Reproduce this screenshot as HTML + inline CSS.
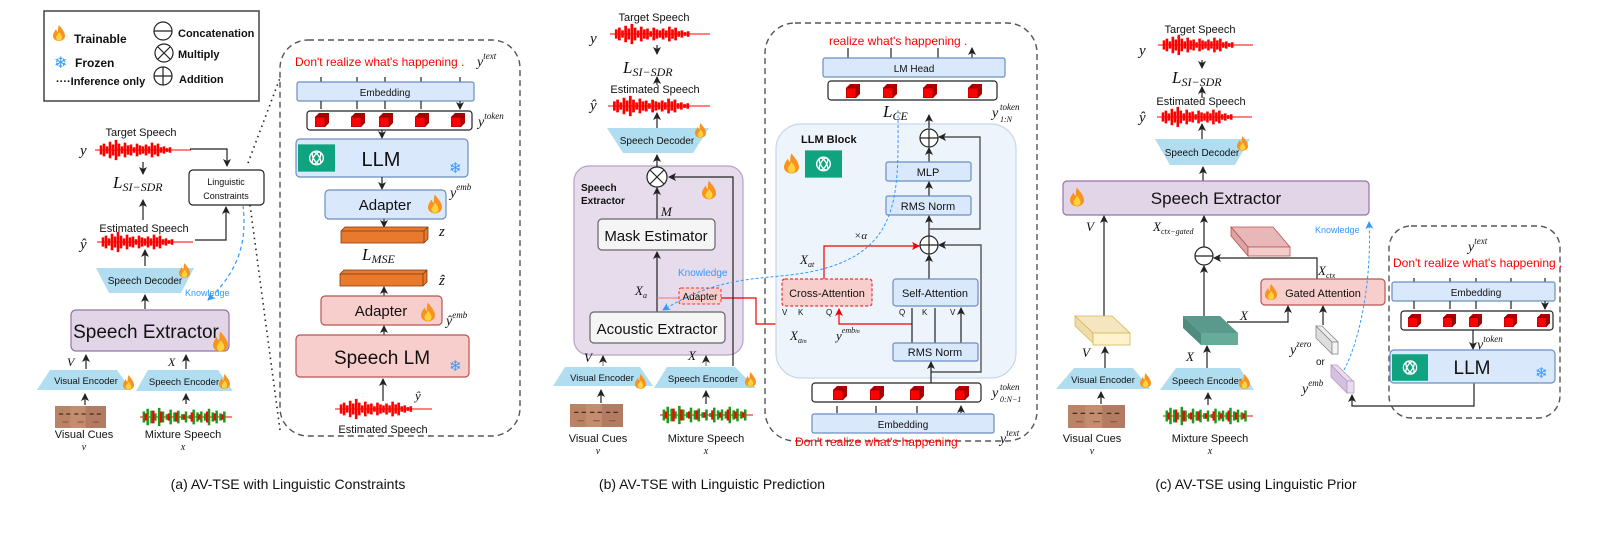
<!DOCTYPE html>
<html><head><meta charset="utf-8"><style>
html,body{margin:0;padding:0;background:#fff;width:1619px;height:536px;overflow:hidden}
svg{display:block}
text{font-family:"Liberation Sans",sans-serif;fill:#111}
.m{font-family:"Liberation Serif",serif;font-style:italic}
.blue{fill:#dae8fc;stroke:#6c8ebf;stroke-width:1.2}
.red{fill:#f8cecc;stroke:#b85450;stroke-width:1.2}
.pur{fill:#e1d5e7;stroke:#9673a6;stroke-width:1.2}
.gr{fill:#f5f5f5;stroke:#666;stroke-width:1.2}
.trap{fill:#b1ddf0;stroke:none}
.ln{stroke:#222;stroke-width:1.2;fill:none}
.rl{stroke:#e00;stroke-width:1.2;fill:none}
</style></head><body>
<svg width="1619" height="536" viewBox="0 0 1619 536" xmlns="http://www.w3.org/2000/svg">
<defs>
<marker id="a" markerWidth="8" markerHeight="8" refX="7" refY="4" orient="auto" markerUnits="userSpaceOnUse"><path d="M0,0 L8,4 L0,8 L2,4z" fill="#222"/></marker>
<marker id="ar" markerWidth="8" markerHeight="8" refX="7" refY="4" orient="auto" markerUnits="userSpaceOnUse"><path d="M0,0 L8,4 L0,8 L2,4z" fill="#e00"/></marker>
<marker id="ab" markerWidth="8" markerHeight="8" refX="7" refY="4" orient="auto" markerUnits="userSpaceOnUse"><path d="M0,0 L8,4 L0,8 L2,4z" fill="#3399ff"/></marker>
<symbol id="wav" viewBox="0 0 96 24" preserveAspectRatio="none"><path d="M0,12H96" stroke="#f00" stroke-width="1.2"/><path d="M6,7V17M9,5V19M12,8V16M15,3V21M18,6V18M21,1V23M24,5V19M27,8V16M30,4V20M33,7V17M36,6V18M39,9V15M42,5V19M45,7V17M48,8V16M51,6V18M54,8V16M57,4V20M60,7V17M63,5V19M66,9V15M69,8V16M72,10V14M75,9V15" stroke="#f00" stroke-width="2.6"/></symbol>
<symbol id="mix" viewBox="0 0 96 24" preserveAspectRatio="none"><path d="M0,12H96" stroke="#f00" stroke-width="1.2"/><path d="M4,6V18M8,3V21M12,5V19M16,8V16M20,2V22M24,6V18M28,9V15M32,4V20M36,7V17M40,5V19M44,9V15M48,6V18M52,10V14M56,4V20M60,7V17M64,6V18M68,8V16M72,3V21M76,7V17M80,5V19M84,8V16M88,6V18" stroke="#1a9a1a" stroke-width="2.6"/><path d="M6,8V16M14,5V19M22,6V18M30,8V16M38,7V17M46,9V15M54,7V17M62,9V15M70,6V18M78,8V16M86,9V15" stroke="#f00" stroke-width="2.4"/></symbol>
<symbol id="cube" viewBox="0 0 14 14"><path d="M0,4 L4,0 H14 V10 L10,14 H0z" fill="#a00"/><rect x="0" y="4" width="10" height="10" fill="#f00" stroke="#600" stroke-width=".6"/></symbol>
<symbol id="fl" viewBox="0 0 12 16"><path d="M6,0 C9,4 12,7 12,11 C12,14 9,16 6,16 C3,16 0,14 0,11 C0,8 2,6 3,4 C4,7 5,7 5,7 C5,4 5,2 6,0z" fill="#f7931e"/><path d="M6,7 C8,9 9,11 9,12.5 C9,14.5 7.5,15.5 6,15.5 C4.5,15.5 3,14.5 3,12.5 C3,11 4.5,10 6,7z" fill="#ffd23f"/></symbol>
<symbol id="logo" viewBox="0 0 38 28"><rect width="38" height="28" fill="#10a37f"/><g fill="none" stroke="#fff" stroke-width="1.4"><circle cx="19" cy="14" r="7"/><ellipse cx="19" cy="14" rx="7" ry="3" transform="rotate(60 19 14)"/><ellipse cx="19" cy="14" rx="7" ry="3" transform="rotate(-60 19 14)"/></g></symbol>
<symbol id="face" viewBox="0 0 50 22" preserveAspectRatio="none"><rect x="0" y="0" width="20" height="22" fill="#b98365"/><rect x="15" y="0" width="20" height="22" fill="#c38d70"/><rect x="30" y="0" width="20" height="22" fill="#b27c62"/><path d="M4,8h4M11,8h4M19,8h4M26,8h4M34,8h4M41,8h4" stroke="#4a2a1a" stroke-width="1.2"/><path d="M7,16h6M22,16h6M37,16h6" stroke="#944" stroke-width="1"/></symbol>
</defs>

<!-- ========== (a) ========== -->
<rect x="44" y="11" width="215" height="90" fill="#fff" stroke="#444" stroke-width="1.5"/>
<use href="#fl" x="53" y="24" width="12" height="18"/>
<text x="74" y="43" font-size="12" font-weight="bold">Trainable</text>
<text x="54" y="68" font-size="16" style="fill:#3399ff">❄</text>
<text x="75" y="67" font-size="12" font-weight="bold">Frozen</text>
<text x="56" y="85" font-size="11" font-weight="bold">····Inference only</text>
<circle cx="163" cy="31" r="9" class="ln"/><path d="M154,31h18" class="ln"/>
<text x="178" y="37" font-size="11" font-weight="bold">Concatenation</text>
<circle cx="164" cy="53" r="9" class="ln"/><path d="M158,47l12,12M170,47l-12,12" class="ln"/>
<text x="178" y="58" font-size="11" font-weight="bold">Multiply</text>
<circle cx="163" cy="76" r="9" class="ln"/><path d="M154,76h18M163,67v18" class="ln"/>
<text x="179" y="83" font-size="11" font-weight="bold">Addition</text>

<text x="141" y="136" font-size="11" text-anchor="middle">Target Speech</text>
<text x="80" y="155" font-size="15" class="m">y</text>
<use href="#wav" x="95" y="139" width="96" height="22"/>
<path d="M190,149H227V166" class="ln" marker-end="url(#a)"/>
<path d="M143,162V174" class="ln" marker-end="url(#a)"/>
<text x="113" y="188" font-size="17" class="m">L<tspan font-size="12" dy="3">SI−SDR</tspan></text>
<rect x="189" y="170" width="75" height="35" rx="4" fill="#fff" stroke="#222" stroke-width="1.2"/>
<text x="226" y="185" font-size="9" text-anchor="middle">Linguistic</text>
<text x="226" y="199" font-size="9" text-anchor="middle">Constraints</text>
<path d="M143,220V200" class="ln" marker-end="url(#a)"/>
<text x="144" y="232" font-size="11" text-anchor="middle">Estimated Speech</text>
<text x="80" y="249" font-size="15" class="m">ŷ</text>
<use href="#wav" x="97" y="231" width="96" height="22"/>
<path d="M195,240H226V207" class="ln" marker-end="url(#a)"/>
<path d="M145,266V250" class="ln" marker-end="url(#a)"/>
<path d="M96,268H194L181,293H109z" class="trap"/>
<text x="145" y="284" font-size="10" text-anchor="middle">Speech Decoder</text>
<use href="#fl" x="179" y="263" width="11" height="15"/>
<path d="M145,309V295" class="ln" marker-end="url(#a)"/>
<path d="M243,205 C247,240 240,270 208,300" stroke="#3399ff" stroke-width="1.2" stroke-dasharray="4,3" fill="none" marker-end="url(#ab)"/>
<text x="185" y="296" font-size="9" style="fill:#3399ff">Knowledge</text>
<rect x="71" y="310" width="158" height="41" rx="5" class="pur"/>
<text x="146" y="338" font-size="19" text-anchor="middle">Speech Extractor</text>
<use href="#fl" x="213" y="331" width="15" height="21"/>
<text x="67" y="366" font-size="12" class="m">V</text>
<path d="M86,369V355" class="ln" marker-end="url(#a)"/>
<text x="168" y="366" font-size="12" class="m">X</text>
<path d="M186,369V355" class="ln" marker-end="url(#a)"/>
<path d="M50,370H117L131,390H37z" class="trap"/>
<text x="86" y="384" font-size="9.5" text-anchor="middle">Visual Encoder</text>
<use href="#fl" x="123" y="375" width="11" height="15"/>
<path d="M148,370H218L233,391H136z" class="trap"/>
<text x="184" y="385" font-size="9.5" text-anchor="middle">Speech Encoder</text>
<use href="#fl" x="219" y="374" width="11" height="15"/>
<path d="M85,405V394" class="ln" marker-end="url(#a)"/>
<path d="M186,404V394" class="ln" marker-end="url(#a)"/>
<use href="#face" x="55" y="406" width="51" height="22"/>
<use href="#mix" x="140" y="406" width="92" height="22"/>
<text x="84" y="438" font-size="11" text-anchor="middle">Visual Cues</text>
<text x="84" y="450" font-size="10" text-anchor="middle" class="m">v</text>
<text x="183" y="438" font-size="11" text-anchor="middle">Mixture Speech</text>
<text x="183" y="450" font-size="10" text-anchor="middle" class="m">x</text>
<path d="M248,163L280,78M250,205L280,430" stroke="#222" stroke-width="1.6" stroke-dasharray="1.5,4" fill="none"/>

<rect x="280" y="40" width="240" height="396" rx="28" fill="none" stroke="#555" stroke-width="1.4" stroke-dasharray="6,4"/>
<text x="295" y="66" font-size="12" style="fill:#f00">Don't realize what's happening .</text>
<text x="477" y="66" font-size="14" class="m">y<tspan font-size="9" dy="-7">text</tspan></text>
<path d="M321,77v5M357,77v5M385,77v5M421,77v5M460,77v5" class="ln"/>
<rect x="297" y="82" width="177" height="19" rx="2" class="blue"/>
<text x="385" y="96" font-size="10" text-anchor="middle">Embedding</text>
<path d="M321,101v8M357,101v8M385,101v8M421,101v8M460,101v8" class="ln" marker-end="url(#a)"/>
<rect x="307" y="111" width="165" height="19" rx="3" fill="#fff" stroke="#222" stroke-width="1.2"/>
<use href="#cube" x="315" y="113" width="14" height="14"/><use href="#cube" x="351" y="113" width="14" height="14"/><use href="#cube" x="379" y="113" width="14" height="14"/><use href="#cube" x="415" y="113" width="14" height="14"/><use href="#cube" x="451" y="113" width="14" height="14"/>
<text x="478" y="126" font-size="14" class="m">y<tspan font-size="9" dy="-7">token</tspan></text>
<path d="M382,130v8" class="ln" marker-end="url(#a)"/>
<rect x="296" y="139" width="172" height="38" rx="4" class="blue"/>
<use href="#logo" x="298" y="144" width="37" height="28"/>
<text x="381" y="166" font-size="20" text-anchor="middle">LLM</text>
<text x="449" y="173" font-size="15" style="fill:#3399ff">❄</text>
<path d="M382,177v12" class="ln" marker-end="url(#a)"/>
<rect x="325" y="190" width="121" height="29" rx="4" class="blue"/>
<text x="385" y="210" font-size="15" text-anchor="middle">Adapter</text>
<use href="#fl" x="428" y="194" width="14" height="20"/>
<text x="450" y="197" font-size="14" class="m">y<tspan font-size="9" dy="-7">emb</tspan></text>
<path d="M384,219v8" class="ln" marker-end="url(#a)"/>
<path d="M341,231l4,-4h83v12l-4,4h-83z" fill="#e8792d" stroke="#7a3a10" stroke-width="0.8"/><path d="M341,231h83l4,-4M424,231v12" stroke="#7a3a10" stroke-width="0.8" fill="none"/>
<text x="439" y="236" font-size="15" class="m">z</text>
<text x="362" y="260" font-size="17" class="m">L<tspan font-size="12" dy="3">MSE</tspan></text>
<path d="M340,274l4,-4h83v12l-4,4h-83z" fill="#e8792d" stroke="#7a3a10" stroke-width="0.8"/><path d="M340,274h83l4,-4M423,274v12" stroke="#7a3a10" stroke-width="0.8" fill="none"/>
<text x="439" y="285" font-size="15" class="m">ẑ</text>
<path d="M384,296v-9" class="ln" marker-end="url(#a)"/>
<rect x="321" y="296" width="121" height="29" rx="4" class="red"/>
<text x="381" y="316" font-size="15" text-anchor="middle">Adapter</text>
<use href="#fl" x="421" y="302" width="14" height="20"/>
<text x="446" y="325" font-size="14" class="m">ŷ<tspan font-size="9" dy="-7">emb</tspan></text>
<path d="M384,335v-9" class="ln" marker-end="url(#a)"/>
<rect x="296" y="335" width="173" height="42" rx="4" class="red"/>
<text x="382" y="364" font-size="19" text-anchor="middle">Speech LM</text>
<text x="449" y="371" font-size="15" style="fill:#3399ff">❄</text>
<path d="M383,401V379" class="ln" marker-end="url(#a)"/>
<text x="415" y="400" font-size="13" class="m">ŷ</text>
<use href="#wav" x="335" y="398" width="97" height="22"/>
<text x="383" y="433" font-size="11" text-anchor="middle">Estimated Speech</text>

<!-- ========== (b) ========== -->
<text x="654" y="21" font-size="11" text-anchor="middle">Target Speech</text>
<text x="590" y="43" font-size="15" class="m">y</text>
<use href="#wav" x="610" y="23" width="100" height="22"/>
<path d="M657,45v9" class="ln" marker-end="url(#a)"/>
<text x="623" y="73" font-size="17" class="m">L<tspan font-size="12" dy="3">SI−SDR</tspan></text>
<path d="M657,85v-8" class="ln" marker-end="url(#a)"/>
<text x="655" y="93" font-size="11" text-anchor="middle">Estimated Speech</text>
<text x="590" y="110" font-size="15" class="m">ŷ</text>
<use href="#wav" x="608" y="95" width="102" height="22"/>
<path d="M657,128v-15" class="ln" marker-end="url(#a)"/>
<path d="M607,128H709L693,153H623z" class="trap"/>
<text x="657" y="144" font-size="10" text-anchor="middle">Speech Decoder</text>
<use href="#fl" x="695" y="123" width="11" height="15"/>
<rect x="574" y="166" width="169" height="189" rx="15" fill="#e6dcec" stroke="#b7a1c8" stroke-width="1.2"/>
<path d="M657,167v-12" class="ln" marker-end="url(#a)"/>
<circle cx="657" cy="177" r="10" fill="#fff" stroke="#222" stroke-width="1.2"/><path d="M650,170l14,14M664,170l-14,14" class="ln"/>
<text x="581" y="191" font-size="10" font-weight="bold">Speech</text>
<text x="581" y="204" font-size="10" font-weight="bold">Extractor</text>
<use href="#fl" x="702" y="180" width="14" height="20"/>
<text x="661" y="216" font-size="13" class="m">M</text>
<path d="M657,219V188" class="ln" marker-end="url(#a)"/>
<rect x="598" y="219" width="117" height="31" rx="4" class="gr"/>
<text x="656" y="241" font-size="15" text-anchor="middle">Mask Estimator</text>
<path d="M657,312V252" class="ln" marker-end="url(#a)"/>
<text x="635" y="295" font-size="13" class="m">X<tspan font-size="8" dy="3">a</tspan></text>
<text x="678" y="276" font-size="10" style="fill:#3399ff">Knowledge</text>
<path d="M657,298H679" stroke="#e77" stroke-width="1"/>
<rect x="679" y="288" width="42" height="16" rx="2" fill="#f8cecc" stroke="#e33" stroke-width="1" stroke-dasharray="3,2"/>
<text x="700" y="300" font-size="10" text-anchor="middle">Adapter</text>
<path d="M721,298H756V324H816V308" class="rl" marker-end="url(#ar)"/>
<path d="M791,324V308" class="rl" marker-end="url(#ar)"/>
<rect x="590" y="312" width="135" height="31" rx="4" class="gr"/>
<text x="657" y="334" font-size="15" text-anchor="middle">Acoustic Extractor</text>
<path d="M733,366V177H669" class="ln" marker-end="url(#a)"/>
<text x="584" y="362" font-size="13" class="m">V</text>
<path d="M603,366V356" stroke="#888" stroke-width="1.2" marker-end="url(#a)"/>
<text x="688" y="360" font-size="13" class="m">X</text>
<path d="M706,366V356" stroke="#888" stroke-width="1.2" marker-end="url(#a)"/>
<path d="M565,367H640L653,386H553z" class="trap"/>
<text x="602" y="381" font-size="9.5" text-anchor="middle">Visual Encoder</text>
<use href="#fl" x="635" y="374" width="11" height="15"/>
<path d="M667,367H735L756,388H654z" class="trap"/>
<text x="703" y="382" font-size="9.5" text-anchor="middle">Speech Encoder</text>
<use href="#fl" x="745" y="372" width="11" height="15"/>
<path d="M601,403V390" class="ln" marker-end="url(#a)"/>
<path d="M706,404V391" class="ln" marker-end="url(#a)"/>
<use href="#face" x="570" y="404" width="53" height="23"/>
<use href="#mix" x="660" y="404" width="93" height="22"/>
<text x="598" y="442" font-size="11" text-anchor="middle">Visual Cues</text>
<text x="598" y="454" font-size="10" text-anchor="middle" class="m">v</text>
<text x="706" y="442" font-size="11" text-anchor="middle">Mixture Speech</text>
<text x="706" y="454" font-size="10" text-anchor="middle" class="m">x</text>

<rect x="765" y="23" width="272" height="418" rx="30" fill="none" stroke="#555" stroke-width="1.4" stroke-dasharray="6,4"/>
<text x="829" y="45" font-size="12" style="fill:#f00">realize what's happening  .</text>
<path d="M848,58V48M891,58V48M938,58V48M972,58V48" class="ln" marker-end="url(#a)"/>
<rect x="823" y="58" width="182" height="19" rx="2" class="blue"/>
<text x="914" y="72" font-size="10" text-anchor="middle">LM Head</text>
<rect x="828" y="81" width="169" height="19" rx="3" fill="#fff" stroke="#222" stroke-width="1.2"/>
<use href="#cube" x="846" y="84" width="14" height="14"/><use href="#cube" x="883" y="84" width="14" height="14"/><use href="#cube" x="923" y="84" width="14" height="14"/><use href="#cube" x="968" y="84" width="14" height="14"/>
<text x="883" y="117" font-size="17" class="m">L<tspan font-size="12" dy="3">CE</tspan></text>
<text x="992" y="117" font-size="14" class="m">y</text><text x="1000" y="110" font-size="9" class="m">token</text><text x="1000" y="122" font-size="8" class="m">1:N</text>
<rect x="776" y="124" width="240" height="254" rx="25" fill="#eef4fc" stroke="#c6d6ee" stroke-width="1.2"/>
<path d="M929,128V115" class="ln" marker-end="url(#a)"/>
<text x="801" y="143" font-size="11" font-weight="bold">LLM Block</text>
<use href="#fl" x="784" y="153" width="15" height="21"/>
<use href="#logo" x="805" y="150" width="37" height="28"/>
<circle cx="929" cy="138" r="9" fill="#fff" stroke="#222" stroke-width="1.2"/><path d="M920,138h18M929,129v18" class="ln"/>
<path d="M929,162V148" class="ln" marker-end="url(#a)"/>
<rect x="886" y="162" width="85" height="19" rx="2" class="blue"/>
<text x="928" y="176" font-size="11" text-anchor="middle">MLP</text>
<path d="M929,196V182" class="ln" marker-end="url(#a)"/>
<rect x="886" y="196" width="85" height="19" rx="2" class="blue"/>
<text x="928" y="210" font-size="11" text-anchor="middle">RMS Norm</text>
<path d="M929,236V216" class="ln" marker-end="url(#a)"/>
<path d="M929,229H980V137H939" stroke="#555" stroke-width="1.4" fill="none" marker-end="url(#a)"/>
<circle cx="929" cy="245" r="9" fill="#fff" stroke="#222" stroke-width="1.2"/><path d="M920,245h18M929,236v18" class="ln"/>
<path d="M929,279V255" class="ln" marker-end="url(#a)"/>
<path d="M931,372H981V245H939" stroke="#555" stroke-width="1.4" fill="none" marker-end="url(#a)"/>
<text x="854" y="239" font-size="11" class="m">×α</text>
<path d="M824,279V246H919" class="rl" marker-end="url(#ar)"/>
<text x="800" y="264" font-size="13" class="m">X<tspan font-size="8" dy="3">at</tspan></text>
<path d="M898,110 C898,200 905,265 780,276 C740,280 710,282 663,310" stroke="#3399ff" stroke-width="1" stroke-dasharray="3,2" fill="none" marker-end="url(#ab)"/>
<rect x="782" y="279" width="90" height="27" rx="3" fill="#f8cecc" stroke="#e33" stroke-width="1.2" stroke-dasharray="3,2"/>
<text x="827" y="297" font-size="11" text-anchor="middle">Cross-Attention</text>
<text x="782" y="315" font-size="8">V</text><text x="798" y="315" font-size="8">K</text><text x="826" y="315" font-size="8">Q</text>
<path d="M912,324H839V309" class="rl" marker-end="url(#ar)"/>
<text x="790" y="340" font-size="13" class="m">X<tspan font-size="8" dy="3">a<tspan font-size="6">in</tspan></tspan></text>
<text x="836" y="340" font-size="13" class="m">y<tspan font-size="8" dy="-7">emb<tspan font-size="6">in</tspan></tspan></text>
<rect x="893" y="279" width="85" height="27" rx="3" class="blue"/>
<text x="935" y="297" font-size="11" text-anchor="middle">Self-Attention</text>
<text x="899" y="315" font-size="8">Q</text><text x="922" y="315" font-size="8">K</text><text x="950" y="315" font-size="8">V</text>
<path d="M912,343V308M935,343V308M961,343V308" class="ln" marker-end="url(#a)"/>
<rect x="893" y="343" width="85" height="18" rx="2" class="blue"/>
<text x="935" y="356" font-size="11" text-anchor="middle">RMS Norm</text>
<path d="M931,383V362" class="ln" marker-end="url(#a)"/>
<rect x="812" y="383" width="169" height="19" rx="3" fill="#fff" stroke="#222" stroke-width="1.2"/>
<use href="#cube" x="833" y="386" width="14" height="14"/><use href="#cube" x="870" y="386" width="14" height="14"/><use href="#cube" x="910" y="386" width="14" height="14"/><use href="#cube" x="955" y="386" width="14" height="14"/>
<text x="992" y="397" font-size="14" class="m">y</text><text x="1000" y="390" font-size="9" class="m">token</text><text x="1000" y="402" font-size="8" class="m">0:N−1</text>
<path d="M837,413v-7M876,413v-7M917,413v-7M961,413v-7" class="ln" marker-end="url(#a)"/>
<rect x="812" y="414" width="182" height="19" rx="2" class="blue"/>
<text x="903" y="428" font-size="10" text-anchor="middle">Embedding</text>
<text x="795" y="446" font-size="12" style="fill:#f00">Don't realize what's happening</text>
<text x="1000" y="443" font-size="14" class="m">y<tspan font-size="9" dy="-7">text</tspan></text>

<!-- ========== (c) ========== -->
<text x="1200" y="33" font-size="11" text-anchor="middle">Target Speech</text>
<text x="1139" y="55" font-size="15" class="m">y</text>
<use href="#wav" x="1158" y="34" width="95" height="22"/>
<path d="M1202,60v8" class="ln" marker-end="url(#a)"/>
<text x="1172" y="83" font-size="17" class="m">L<tspan font-size="12" dy="3">SI−SDR</tspan></text>
<path d="M1202,98v-11" class="ln" marker-end="url(#a)"/>
<text x="1201" y="105" font-size="11" text-anchor="middle">Estimated Speech</text>
<text x="1139" y="122" font-size="15" class="m">ŷ</text>
<use href="#wav" x="1157" y="106" width="95" height="22"/>
<path d="M1202,139v-15" class="ln" marker-end="url(#a)"/>
<path d="M1155,139H1250L1235,165H1170z" class="trap"/>
<text x="1202" y="156" font-size="10" text-anchor="middle">Speech Decoder</text>
<use href="#fl" x="1237" y="136" width="11" height="15"/>
<path d="M1203,181v-14" class="ln" marker-end="url(#a)"/>
<rect x="1063" y="181" width="306" height="34" rx="4" class="pur"/>
<use href="#fl" x="1070" y="187" width="14" height="20"/>
<text x="1216" y="204" font-size="17" text-anchor="middle">Speech Extractor</text>
<text x="1086" y="231" font-size="13" class="m">V</text>
<path d="M1104,316V216" class="ln" marker-end="url(#a)"/>
<text x="1153" y="231" font-size="13" class="m">X<tspan font-size="8" dy="3">ctx−gated</tspan></text>
<path d="M1204,247V216" class="ln" marker-end="url(#a)"/>
<path d="M1231,227h42l17,20h-42z" fill="#e8b7b7" stroke="#b85450" stroke-width=".8"/>
<path d="M1231,227l17,20v9l-17,-20z" fill="#dca4a4" stroke="#b85450" stroke-width=".8"/>
<rect x="1248" y="247" width="42" height="9" fill="#f5cccc" stroke="#b85450" stroke-width=".8"/>
<circle cx="1204" cy="256" r="9" fill="#fff" stroke="#222" stroke-width="1.2"/><path d="M1195,256h18" class="ln"/>
<path d="M1204,316V266" class="ln" marker-end="url(#a)"/>
<path d="M1317,279V258H1214" class="ln" marker-end="url(#a)"/>
<text x="1318" y="275" font-size="13" class="m">X<tspan font-size="8" dy="3">ctx</tspan></text>
<rect x="1261" y="279" width="124" height="26" rx="4" class="red"/>
<use href="#fl" x="1265" y="284" width="12" height="16"/>
<text x="1323" y="297" font-size="11" text-anchor="middle">Gated Attention</text>
<path d="M1227,322H1288V306" class="ln" marker-end="url(#a)"/>
<text x="1240" y="320" font-size="13" class="m">X</text>
<path d="M1075,316h37l18,17h-37z" fill="#f6e6c0" stroke="#d6b656" stroke-width=".8"/>
<path d="M1075,316l18,17v10l-18,-17z" fill="#eedcaa" stroke="#d6b656" stroke-width=".8"/>
<rect x="1093" y="333" width="37" height="12" fill="#fff2cc" stroke="#d6b656" stroke-width=".8"/>
<path d="M1183,316h37l18,17h-37z" fill="#5a9a8c"/>
<path d="M1183,316l18,17v12l-18,-17z" fill="#4f8b7e"/>
<rect x="1201" y="333" width="37" height="12" fill="#67ab9b"/>
<text x="1082" y="357" font-size="13" class="m">V</text>
<path d="M1105,368V347" class="ln" marker-end="url(#a)"/>
<text x="1186" y="361" font-size="13" class="m">X</text>
<path d="M1207,368V346" class="ln" marker-end="url(#a)"/>
<path d="M1074,368H1133L1150,389H1056z" class="trap"/>
<text x="1103" y="383" font-size="9.5" text-anchor="middle">Visual Encoder</text>
<use href="#fl" x="1140" y="373" width="11" height="15"/>
<path d="M1176,368H1240L1254,390H1160z" class="trap"/>
<text x="1207" y="384" font-size="9.5" text-anchor="middle">Speech Encoder</text>
<use href="#fl" x="1239" y="374" width="11" height="15"/>
<path d="M1101,404V392" class="ln" marker-end="url(#a)"/>
<path d="M1208,405V393" class="ln" marker-end="url(#a)"/>
<use href="#face" x="1068" y="405" width="57" height="23"/>
<use href="#mix" x="1163" y="405" width="90" height="22"/>
<text x="1092" y="442" font-size="11" text-anchor="middle">Visual Cues</text>
<text x="1092" y="454" font-size="10" text-anchor="middle" class="m">v</text>
<text x="1210" y="442" font-size="11" text-anchor="middle">Mixture Speech</text>
<text x="1210" y="454" font-size="10" text-anchor="middle" class="m">x</text>
<path d="M1323,325V306" class="ln" marker-end="url(#a)"/>
<path d="M1316,326l16,16v12l-16,-16z" fill="#ddd" stroke="#888" stroke-width=".8"/><path d="M1316,326h6l16,16h-6z" fill="#eee" stroke="#888" stroke-width=".8"/><rect x="1332" y="342" width="6" height="12" fill="#f5f5f5" stroke="#888" stroke-width=".8"/>
<text x="1290" y="354" font-size="14" class="m">y<tspan font-size="9" dy="-7">zero</tspan></text>
<text x="1316" y="365" font-size="10">or</text>
<path d="M1331,365l16,16v12l-16,-16z" fill="#d6c0df" stroke="#b49bc0" stroke-width=".8"/><path d="M1331,365h6l16,16h-6z" fill="#e8dcee" stroke="#b49bc0" stroke-width=".8"/><rect x="1347" y="381" width="7" height="12" fill="#e8dcee" stroke="#b49bc0" stroke-width=".8"/>
<text x="1302" y="393" font-size="14" class="m">y<tspan font-size="9" dy="-7">emb</tspan></text>
<path d="M1344,370 C1360,340 1372,280 1369,222" stroke="#3399ff" stroke-width="1" stroke-dasharray="3,2" fill="none" marker-end="url(#ab)"/>
<text x="1315" y="233" font-size="9" style="fill:#3399ff">Knowledge</text>
<path d="M1474,383V406H1352V395" class="ln" marker-end="url(#a)"/>
<rect x="1389" y="226" width="171" height="192" rx="22" fill="none" stroke="#555" stroke-width="1.4" stroke-dasharray="6,4"/>
<text x="1468" y="251" font-size="14" class="m">y<tspan font-size="9" dy="-7">text</tspan></text>
<text x="1393" y="267" font-size="12" style="fill:#f00">Don't realize what's happening .</text>
<path d="M1414,278v4M1450,278v4M1476,278v4M1511,278v4M1545,278v4" class="ln"/>
<rect x="1392" y="282" width="163" height="19" rx="2" class="blue"/>
<text x="1476" y="296" font-size="10" text-anchor="middle">Embedding</text>
<path d="M1414,301v8M1450,301v8M1476,301v8M1511,301v8M1545,301v8" class="ln" marker-end="url(#a)"/>
<rect x="1401" y="311" width="152" height="19" rx="3" fill="#fff" stroke="#222" stroke-width="1.2"/>
<use href="#cube" x="1408" y="314" width="13" height="13"/><use href="#cube" x="1443" y="314" width="13" height="13"/><use href="#cube" x="1469" y="314" width="13" height="13"/><use href="#cube" x="1504" y="314" width="13" height="13"/><use href="#cube" x="1537" y="314" width="13" height="13"/>
<path d="M1473,330v19" class="ln" marker-end="url(#a)"/>
<text x="1477" y="349" font-size="14" class="m">y<tspan font-size="9" dy="-7">token</tspan></text>
<rect x="1390" y="350" width="165" height="33" rx="4" class="blue"/>
<use href="#logo" x="1392" y="354" width="36" height="27"/>
<text x="1472" y="374" font-size="19" text-anchor="middle">LLM</text>
<text x="1535" y="378" font-size="15" style="fill:#3399ff">❄</text>

<text x="288" y="489" font-size="14" text-anchor="middle">(a) AV-TSE with Linguistic Constraints</text>
<text x="712" y="489" font-size="14" text-anchor="middle">(b) AV-TSE with Linguistic Prediction</text>
<text x="1256" y="489" font-size="14" text-anchor="middle">(c) AV-TSE using Linguistic Prior</text>
</svg>
</body></html>
